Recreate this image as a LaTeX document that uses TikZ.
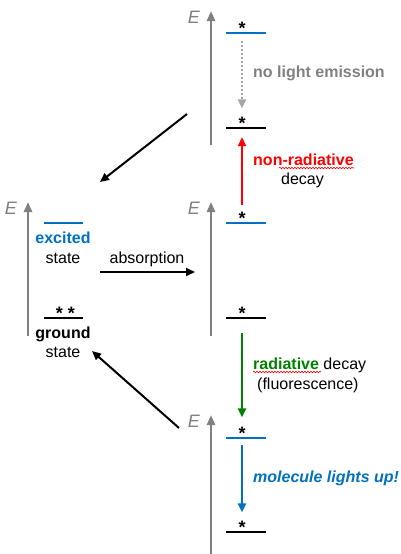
\documentclass[tikz,border=0pt]{standalone}
\usepackage{fontspec}
\setmainfont{Liberation Sans}
\usepackage{xcolor}
\usepackage{tikz}
\usetikzlibrary{positioning,%
  arrows.meta,%
  calc,%
  decorations.pathmorphing%
}
\definecolor{eblue}{HTML}{0070C0}
\definecolor{egray}{HTML}{808080}
\definecolor{edot}{HTML}{A6A6A6}
\definecolor{egreen}{HTML}{008000}

\begin{document}
\begin{tikzpicture}[x=1pt,y=-1pt,
    every node/.style={font=\fontsize{16}{19}\selectfont, inner sep=0pt},
    eaxis/.style={draw=egray, line width=2.6pt, -{Triangle[length=10pt,width=8pt]}},
    elabel/.style={text=egray, font=\fontsize{18}{20}\selectfont\itshape},
    level/.style={line width=2.2pt},
    starlbl/.style={anchor=base, font=\fontsize{18}{20}\selectfont\bfseries},
    txt/.style={anchor=base},
    txtw/.style={anchor=base west},
    trans/.style={line width=2pt, -{Triangle[length=9pt,width=8pt]}},
    spell/.style={draw=red, line width=0.6pt, decorate, decoration={snake, amplitude=0.8pt, segment length=3pt}}]
            \useasboundingbox (0,0) rectangle (401,554);

            \foreach \x/\b/\t/\n in {28/336/202/L, 211/145/11/T, 211/336/202/M, 211/554/415/B}{
              \coordinate (\n0) at (\x,\b);
              \coordinate (\n1) at (\x,\t);
              \draw[eaxis] (\n0) -- (\n1);
              \node[elabel] (\n E) at (\x-17,\t+6) {E};
            }

            \foreach \y/\col/\n in {33/eblue/tu, 128/black/tl, 223/eblue/mu, 318/black/ml, 438/eblue/bu, 532/black/bl}{
              \draw[level, draw=\col] (226,\y) -- (266,\y);
              \node[starlbl] (\n) at (242,\y+1) {*};
            }

            % left: ground and excited state
            \draw[level, eblue] (44,223) -- (83,223);
            \draw[level] (44,318) -- (83,318);
            \node[txt, text=eblue] (excited) at (63,243) {\bfseries excited};
            \node[txt] (state1) at (63,263) {state};
            \node[starlbl] (stars) at (65.5,319) {*\hspace{5pt}*};
            \node[txt] (ground) at (63,338) {\bfseries ground};
            \node[txt] (state2) at (63,357) {state};

            \node[txt] (absorption) at (147,263) {absorption};
            \coordinate (abs0) at (100,272);
            \coordinate (abs1) at (195,272);
            \draw[trans] (abs0) -- (abs1);

            % transitions
            \draw[trans, edot, dotted, shorten <=7pt, shorten >=8pt] (tu) -- (tl);
            \draw[trans, red, shorten <=6pt, shorten >=8pt] (mu) -- (tl);
            \draw[trans, egreen, shorten <=14pt, shorten >=9pt] (ml) -- (bu);
            \draw[trans, eblue, shorten <=6pt, shorten >=8pt] (bu) -- (bl);

            \node[txtw, text=egray] (nolight) at (253,77) {\bfseries no light emission};
            \node[txtw, text=red] (nonrad) at (253,165) {\bfseries non-radiative};
            \node[txtw] (decay1) at (281,184) {decay};
            \node[txtw] (raddecay) at (253,369) {\textcolor{egreen}{\bfseries radiative} decay};
            \node[txtw] (fluor) at (257,389) {(fluorescence)};
            \node[txtw, text=eblue] (lights) at (253,482) {\bfseries\itshape molecule lights up!};

            \draw[spell] (279,168) -- (354,168);
            \draw[spell] (253,372) -- (321,372);

            \coordinate (d0) at (187,114);
            \coordinate (d1) at (100,182);
            \draw[trans] (d0) -- (d1);
            \coordinate (g0) at (179,428);
            \coordinate (g1) at (92,351);
            \draw[trans] (g0) -- (g1);
        \end{tikzpicture}
\end{document}
